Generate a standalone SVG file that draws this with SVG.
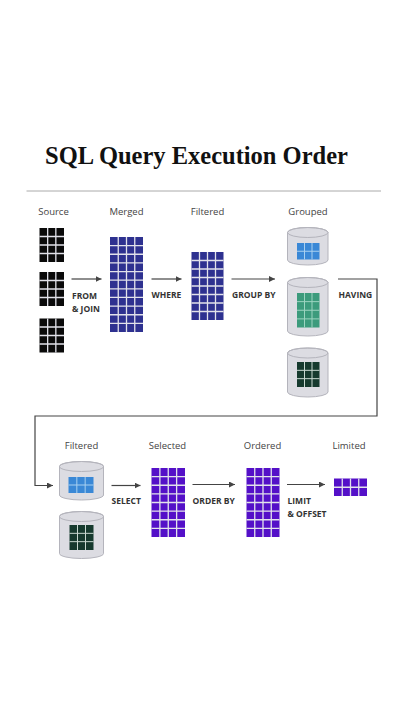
<svg xmlns="http://www.w3.org/2000/svg" width="405" height="720" viewBox="0 0 405 720">
<defs>
<marker id="ah" viewBox="0 0 10 10" refX="10" refY="5" markerWidth="6" markerHeight="6" orient="auto" markerUnits="userSpaceOnUse"><path d="M0,0 L10,5 L0,10 Z" fill="#444"/></marker>
</defs>
<style>
.title{font-family:"Liberation Serif",serif;font-weight:bold;font-size:24.5px;fill:#111}
.lbl{font-family:"Open Sans","Noto Sans",sans-serif;font-size:9.5px;fill:#444}
.op{font-family:"Open Sans","Noto Sans",sans-serif;font-weight:bold;font-size:8.5px;fill:#333}
.gl{stroke:#e2e2ea;stroke-width:1.3;fill:none}
.cyl{fill:#dcdce2;stroke:#b4b4bc;stroke-width:1}
.conn{stroke:#444;stroke-width:1.2;fill:none}
.blk{fill:#0a0a0a}.navy{fill:#2e3190}.pur{fill:#5410c8}
.blue{fill:#3a88d6}.grn{fill:#3c9b7c}.dgr{fill:#163a2e}
.cgl{stroke:#a8d0f0;stroke-width:1;fill:none}
.ggl{stroke:#9cd4c0;stroke-width:1;fill:none}
.dgl{stroke:#c8d8d0;stroke-width:1;fill:none}
</style>
<rect width="405" height="720" fill="#fff"/>
<text class="title" x="196.5" y="163.5" text-anchor="middle">SQL Query Execution Order</text>
<line x1="26.5" y1="191" x2="381" y2="191" stroke="#aaa" stroke-width="1"/>

<g id="connectors">
<line class="conn" x1="71.5" y1="279" x2="101.5" y2="279" marker-end="url(#ah)"/>
<line class="conn" x1="151.5" y1="279" x2="181.5" y2="279" marker-end="url(#ah)"/>
<line class="conn" x1="231.5" y1="279" x2="275" y2="279" marker-end="url(#ah)"/>
<path class="conn" d="M338,279 H377 V416 H35 V485.5 H53" marker-end="url(#ah)"/>
<line class="conn" x1="111.5" y1="485.5" x2="140.5" y2="485.5" marker-end="url(#ah)"/>
<line class="conn" x1="192.5" y1="484.5" x2="235" y2="484.5" marker-end="url(#ah)"/>
<line class="conn" x1="287" y1="484.5" x2="325" y2="484.5" marker-end="url(#ah)"/>
<text class="op" x="72" y="298.5">FROM</text>
<text class="op" x="72" y="311.5">&amp; JOIN</text>
<text class="op" x="151.5" y="298">WHERE</text>
<text class="op" x="232" y="298">GROUP BY</text>
<text class="op" x="338.5" y="298">HAVING</text>
<text class="op" x="111.5" y="504">SELECT</text>
<text class="op" x="192.5" y="504">ORDER BY</text>
<text class="op" x="287.5" y="504">LIMIT</text>
<text class="op" x="287.5" y="517">&amp; OFFSET</text>
</g>

<g id="source">
<text class="lbl" x="53.5" y="215" text-anchor="middle">Source</text>
<rect class="blk" x="39.5" y="228" width="24.5" height="34"/>
<path class="gl" d="M47.67,228V262M55.83,228V262M39.5,236.5H64M39.5,245H64M39.5,253.5H64"/>
<rect class="blk" x="39.5" y="272" width="24.5" height="34"/>
<path class="gl" d="M47.67,272V306M55.83,272V306M39.5,280.5H64M39.5,289H64M39.5,297.5H64"/>
<rect class="blk" x="39.5" y="318.5" width="24.5" height="34"/>
<path class="gl" d="M47.67,318.5V352.5M55.83,318.5V352.5M39.5,327H64M39.5,335.5H64M39.5,344H64"/>
</g>

<g id="merged">
<text class="lbl" x="126.5" y="215" text-anchor="middle">Merged</text>
<rect class="navy" x="110" y="237" width="33" height="95"/>
<path class="gl" d="M118.25,237V332M126.5,237V332M134.75,237V332M110,245.64H143M110,254.27H143M110,262.91H143M110,271.55H143M110,280.18H143M110,288.82H143M110,297.45H143M110,306.09H143M110,314.73H143M110,323.36H143"/>
</g>

<g id="filtered">
<text class="lbl" x="207.5" y="215" text-anchor="middle">Filtered</text>
<rect class="navy" x="191.5" y="252" width="32" height="68"/>
<path class="gl" d="M199.5,252V320M207.5,252V320M215.5,252V320M191.5,260.5H223.5M191.5,269H223.5M191.5,277.5H223.5M191.5,286H223.5M191.5,294.5H223.5M191.5,303H223.5M191.5,311.5H223.5"/>
</g>

<g id="grouped">
<text class="lbl" x="308" y="215" text-anchor="middle">Grouped</text>
<path class="cyl" d="M287.5,232.5 A20.25,5 0 0 1 328,232.5 V260 A20.25,5 0 0 1 287.5,260 Z"/>
<ellipse cx="307.75" cy="232.5" rx="20.25" ry="5" fill="none" stroke="#b4b4bc"/>
<rect class="blue" x="297" y="243" width="22.5" height="16.5"/>
<path class="cgl" d="M304.5,243V259.5M312,243V259.5M297,251.25H319.5"/>
<path class="cyl" d="M287.5,282.5 A20.25,5 0 0 1 328,282.5 V331 A20.25,5 0 0 1 287.5,331 Z"/>
<ellipse cx="307.75" cy="282.5" rx="20.25" ry="5" fill="none" stroke="#b4b4bc"/>
<rect class="grn" x="297" y="293" width="22.5" height="34.5"/>
<path class="ggl" d="M304.5,293V327.5M312,293V327.5M297,301.63H319.5M297,310.25H319.5M297,318.88H319.5"/>
<path class="cyl" d="M287.5,353 A20.25,5 0 0 1 328,353 V392 A20.25,5 0 0 1 287.5,392 Z"/>
<ellipse cx="307.75" cy="353" rx="20.25" ry="5" fill="none" stroke="#b4b4bc"/>
<rect class="dgr" x="297" y="362" width="22.5" height="25"/>
<path class="dgl" d="M304.5,362V387M312,362V387M297,370.33H319.5M297,378.67H319.5"/>
</g>

<g id="filtered2">
<text class="lbl" x="81.5" y="449" text-anchor="middle">Filtered</text>
<path class="cyl" d="M59.5,466.5 A22,5 0 0 1 103.5,466.5 V495 A22,5 0 0 1 59.5,495 Z"/>
<ellipse cx="81.5" cy="466.5" rx="22" ry="5" fill="none" stroke="#b4b4bc"/>
<rect class="blue" x="68.5" y="477" width="25" height="16"/>
<path class="cgl" d="M76.83,477V493M85.17,477V493M68.5,485H93.5"/>
<path class="cyl" d="M59.5,516.5 A22,5 0 0 1 103.5,516.5 V553.5 A22,5 0 0 1 59.5,553.5 Z"/>
<ellipse cx="81.5" cy="516.5" rx="22" ry="5" fill="none" stroke="#b4b4bc"/>
<rect class="dgr" x="69.5" y="525" width="24" height="25"/>
<path class="dgl" d="M77.5,525V550M85.5,525V550M69.5,533.33H93.5M69.5,541.67H93.5"/>
</g>

<g id="selected">
<text class="lbl" x="167.5" y="449" text-anchor="middle">Selected</text>
<rect class="pur" x="151.5" y="468" width="33.5" height="69"/>
<path class="gl" d="M159.88,468V537M168.25,468V537M176.63,468V537M151.5,476.63H185M151.5,485.25H185M151.5,493.88H185M151.5,502.5H185M151.5,511.13H185M151.5,519.75H185M151.5,528.38H185"/>
</g>

<g id="ordered">
<text class="lbl" x="262.5" y="449" text-anchor="middle">Ordered</text>
<rect class="pur" x="246.5" y="468" width="33" height="69"/>
<path class="gl" d="M254.75,468V537M263,468V537M271.25,468V537M246.5,476.63H279.5M246.5,485.25H279.5M246.5,493.88H279.5M246.5,502.5H279.5M246.5,511.13H279.5M246.5,519.75H279.5M246.5,528.38H279.5"/>
</g>

<g id="limited">
<text class="lbl" x="349" y="449" text-anchor="middle">Limited</text>
<rect class="pur" x="334" y="478.5" width="33" height="17.5"/>
<path class="gl" d="M342.25,478.5V496M350.5,478.5V496M358.75,478.5V496M334,487.25H367"/>
</g>
</svg>
